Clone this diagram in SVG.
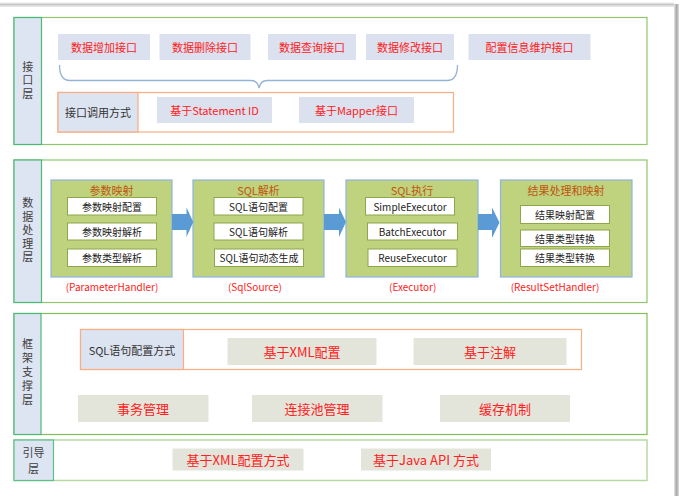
<svg xmlns="http://www.w3.org/2000/svg" width="680" height="496" viewBox="0 0 680 496">
<defs>
<linearGradient id="topShadow" x1="0" y1="0" x2="0" y2="1">
<stop offset="0" stop-color="#ffffff"/>
<stop offset="0.5" stop-color="#c8c8c8"/>
<stop offset="1" stop-color="#f2f2f2"/>
</linearGradient>
<linearGradient id="rightShadow" x1="0" y1="0" x2="1" y2="0">
<stop offset="0" stop-color="#e6e6e6"/>
<stop offset="0.5" stop-color="#a9a9a9"/>
<stop offset="1" stop-color="#dcdcdc"/>
</linearGradient>
<style>
text{font-family:"Noto Sans CJK SC","Liberation Sans",sans-serif;text-anchor:middle;dominant-baseline:central}
.layer{fill:#ffffff;stroke:#90c66c;stroke-width:1.2}
.layer4{fill:#ffffff;stroke:#b6d9a2;stroke-width:1.5}
.lab{fill:#dde4f2;stroke:#4cb97a;stroke-width:1.2}
.labt{font-size:11px;fill:#404040}
.vert{writing-mode:vertical-rl;text-orientation:upright;letter-spacing:2.5px}
.blue{fill:#dbe1ef}
.red11{font-size:11px;fill:#ff2020}
.red13{font-size:13px;fill:#ff2020}
.red10{font-size:10px;fill:#ff2020}
.orange{fill:#ffffff;stroke:#f9ae80;stroke-width:1.2}
.orangelab{fill:#dce3f1;stroke:#f9ae80;stroke-width:1.2}
.gray{fill:#e3e5db}
.green{fill:#bfd27e;stroke:#8db4e2;stroke-width:1.2}
.title{font-size:11px;fill:#c0560f}
.inner{fill:#ffffff;stroke:#8ea64c;stroke-width:1}
.innert{font-size:10px;fill:#222222}
.dark11{font-size:11px;fill:#333333}
.arrow{fill:#5b9bd5}
.brace{fill:none;stroke:#95b3d7;stroke-width:1.3}
</style>
</defs>
<rect x="0" y="0" width="680" height="496" fill="#ffffff"/>
<rect x="0" y="2" width="674" height="5" fill="url(#topShadow)"/>
<rect x="674" y="4" width="5" height="492" fill="url(#rightShadow)"/>

<g id="layer-interface">
<rect class="layer" x="14" y="17.5" width="633" height="127"/>
<rect class="lab" x="14" y="17.5" width="27.5" height="127"/>
<text class="labt vert" x="27.8" y="81.5">接口层</text>
</g>
<g id="n-add"><rect class="blue" x="58" y="34" width="92" height="26"/><text class="red11" x="104" y="47">数据增加接口</text></g>
<g id="n-del"><rect class="blue" x="159.5" y="34" width="91" height="26"/><text class="red11" x="205" y="47">数据删除接口</text></g>
<g id="n-query"><rect class="blue" x="268" y="34" width="88" height="26"/><text class="red11" x="312" y="47">数据查询接口</text></g>
<g id="n-update"><rect class="blue" x="366" y="34" width="88" height="26"/><text class="red11" x="410" y="47">数据修改接口</text></g>
<g id="n-config"><rect class="blue" x="468.5" y="34" width="122" height="26"/><text class="red11" x="529.5" y="47">配置信息维护接口</text></g>
<g id="n-callway">
<rect class="orange" x="58" y="92.5" width="395.5" height="39.5"/>
<rect class="orangelab" x="58" y="92.5" width="80" height="39.5"/>
<text class="dark11" x="98" y="112">接口调用方式</text>
</g>
<g id="n-stmt"><rect class="blue" x="157" y="97" width="115" height="26"/><text class="red11" x="214.5" y="110">基于Statement ID</text></g>
<g id="n-mapper"><rect class="blue" x="299" y="97" width="115" height="26"/><text class="red11" x="356.5" y="110">基于Mapper接口</text></g>

<g id="layer-data">
<rect class="layer" x="14" y="160" width="633" height="142.5"/>
<rect class="lab" x="14" y="160" width="27.5" height="142.5"/>
<text class="labt vert" x="27.8" y="231.5">数据处理层</text>
</g>
<g id="n-param">
<rect class="green" x="51" y="180" width="121" height="97"/>
<text class="title" x="111.5" y="190">参数映射</text>
<rect class="inner" x="67.5" y="197.5" width="89" height="17.5"/><text class="innert" x="112" y="206.2">参数映射配置</text>
<rect class="inner" x="67.5" y="223" width="89" height="17"/><text class="innert" x="112" y="231.5">参数映射解析</text>
<rect class="inner" x="67.5" y="249" width="89" height="17.5"/><text class="innert" x="112" y="257.7">参数类型解析</text>
<text class="red10" x="112" y="286">(ParameterHandler)</text>
</g>
<g id="n-sqlparse">
<rect class="green" x="193" y="180" width="131" height="97"/>
<text class="title" x="258.5" y="190">SQL解析</text>
<rect class="inner" x="214" y="197.5" width="89" height="17.5"/><text class="innert" x="258.5" y="206.2">SQL语句配置</text>
<rect class="inner" x="214" y="223" width="89" height="17"/><text class="innert" x="258.5" y="231.5">SQL语句解析</text>
<rect class="inner" x="214.5" y="249" width="89" height="17.5"/><text class="innert" x="259" y="257.7">SQL语句动态生成</text>
<text class="red10" x="255" y="286">(SqlSource)</text>
</g>
<g id="n-exec">
<rect class="green" x="346" y="180" width="132" height="97"/>
<text class="title" x="412" y="190">SQL执行</text>
<rect class="inner" x="365.5" y="197.5" width="89" height="17.5"/><text class="innert" x="410" y="206.2">SimpleExecutor</text>
<rect class="inner" x="367.5" y="223" width="90" height="17"/><text class="innert" x="412.5" y="231.5">BatchExecutor</text>
<rect class="inner" x="368" y="249" width="89" height="17.5"/><text class="innert" x="412.5" y="257.7">ReuseExecutor</text>
<text class="red10" x="412.7" y="286">(Executor)</text>
</g>
<g id="n-result">
<rect class="green" x="500.5" y="180" width="131.5" height="97"/>
<text class="title" x="566" y="190">结果处理和映射</text>
<rect class="inner" x="520.5" y="205.5" width="89" height="18"/><text class="innert" x="565" y="214.5">结果映射配置</text>
<rect class="inner" x="520.5" y="230" width="89" height="16.5"/><text class="innert" x="565" y="238.3">结果类型转换</text>
<rect class="inner" x="520.5" y="249" width="89" height="17.5"/><text class="innert" x="565" y="257.7">结果类型转换</text>
<text class="red10" x="555" y="286">(ResultSetHandler)</text>
</g>

<g id="layer-framework">
<rect class="layer" x="14" y="313.5" width="633" height="121" style="stroke:#82bd5a"/>
<rect class="lab" x="14" y="313.5" width="27" height="121"/>
<text class="labt vert" x="27.5" y="373.5" style="letter-spacing:3px">框架支撑层</text>
</g>
<g id="n-sqlconf">
<rect class="orange" x="80.5" y="329.5" width="501" height="40"/>
<rect class="orangelab" x="80.5" y="329.5" width="103" height="40"/>
<text class="dark11" x="132" y="349.5">SQL语句配置方式</text>
</g>
<g id="n-xmlconf"><rect class="gray" x="227.5" y="338" width="149" height="27"/><text class="red13" x="302" y="351.5">基于XML配置</text></g>
<g id="n-annot"><rect class="gray" x="413.5" y="338" width="153" height="27"/><text class="red13" x="490" y="351.5">基于注解</text></g>
<g id="n-tx"><rect class="gray" x="78" y="395" width="130.5" height="27"/><text class="red13" x="143" y="408.5">事务管理</text></g>
<g id="n-pool"><rect class="gray" x="252" y="395" width="130.5" height="27"/><text class="red13" x="317" y="408.5">连接池管理</text></g>
<g id="n-cache"><rect class="gray" x="440" y="395" width="130" height="27"/><text class="red13" x="505" y="408.5">缓存机制</text></g>

<g id="layer-boot">
<rect class="layer4" x="14" y="440" width="633" height="40.5"/>
<rect class="lab" x="14" y="440" width="39.5" height="40.5" style="stroke:#5cc08a"/>
<text class="labt" x="33.5" y="452">引导</text>
<text class="labt" x="33.5" y="468">层</text>
</g>
<g id="n-xmlway"><rect class="gray" x="172.5" y="448.5" width="131" height="22"/><text class="red13" x="238" y="459.5">基于XML配置方式</text></g>
<g id="n-javaapi"><rect class="gray" x="361" y="448.5" width="130" height="22"/><text class="red13" x="426" y="459.5">基于Java API 方式</text></g>

<g id="connectors">
<path class="brace" d="M59.5,65 Q59.5,80.5 70,80.5 L251,80.5 Q257.5,80.5 259,88 Q260.5,80.5 267,80.5 L447,80.5 Q457.5,80.5 457.5,65"/>
<polygon class="arrow" points="172,214 186.5,214 186.5,207.5 193.3,222 186.5,237 186.5,230 172,230"/>
<polygon class="arrow" points="324,214 339,214 339,207.5 346,222 339,237 339,230 324,230"/>
<polygon class="arrow" points="478,214 492,214 492,207.5 499.5,222.5 492,238 492,230 478,230"/>
</g>
</svg>
